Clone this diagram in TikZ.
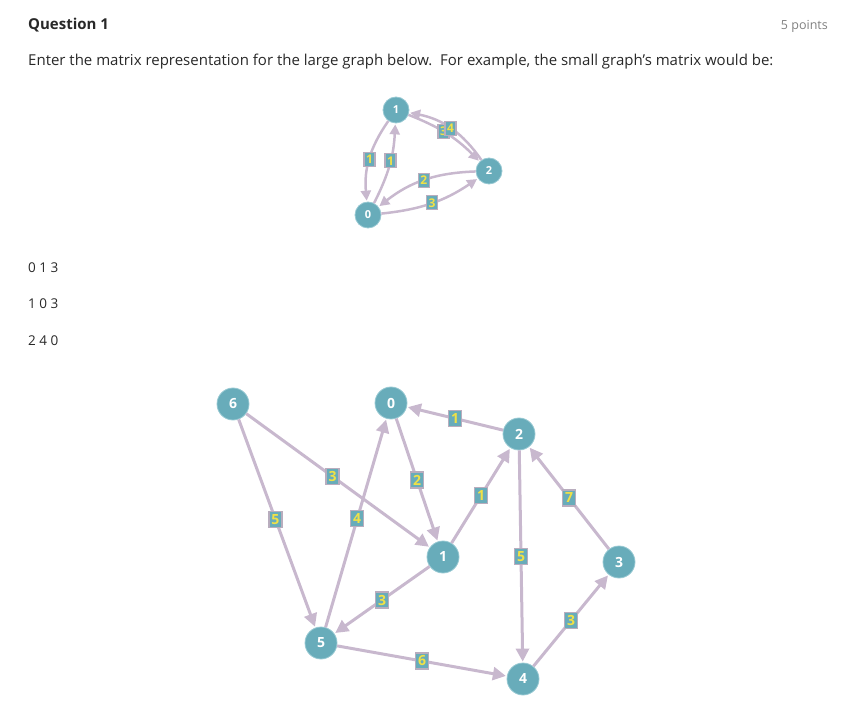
\documentclass[tikz,border=0pt]{standalone}
\usepackage{fontspec}
\setmainfont{Open Sans}
\usetikzlibrary{arrows.meta}
\definecolor{nodeteal}{RGB}{104,172,186}
\definecolor{nodering}{RGB}{150,200,210}
\definecolor{edgec}{RGB}{200,184,206}
\definecolor{labyel}{RGB}{240,225,70}
\definecolor{txt}{RGB}{40,40,40}
\tikzset{
  vtx/.style={circle,fill=nodeteal,draw=nodering,line width=0.8pt,minimum size=32pt,inner sep=0pt,text=white,font=\fontsize{14}{14}\selectfont\bfseries},
  svtx/.style={vtx,minimum size=26pt,font=\fontsize{11}{11}\selectfont\bfseries},
  edg/.style={draw=edgec,line width=3pt,-{Triangle[length=13pt,width=13pt]},shorten >=1pt},
  sedg/.style={edg,line width=2.5pt,-{Triangle[length=10pt,width=10pt]}},
  wlab/.style={fill=nodeteal,draw=edgec!80!gray,line width=1.2pt,inner sep=0.5pt,minimum width=13pt,minimum height=16pt,text=labyel,font=\fontsize{14}{14}\selectfont\bfseries},
  swlab/.style={wlab,minimum width=11pt,minimum height=14pt,font=\fontsize{12}{12}\selectfont\bfseries},
  ptxt/.style={anchor=west,inner sep=0pt,text=txt}
}
\begin{document}
\begin{tikzpicture}[x=1pt,y=-1pt]
\useasboundingbox (0,0) rectangle (852,719);
\node[ptxt,font=\fontsize{15}{15}\selectfont\bfseries] (q) at (28,25) {Question 1};
\node[anchor=east,inner sep=0pt,text=gray,font=\fontsize{12.5}{12.5}\selectfont] (pts) at (828,26) {5 points};
\node[ptxt,font=\fontsize{15}{15}\selectfont] (intro) at (28,62) {Enter the matrix representation for the large graph below.\ \ For example, the small graph's matrix would be:};
\node[ptxt,font=\fontsize{13.5}{13.5}\selectfont] (r1) at (28,268) {0 1 3};
\node[ptxt,font=\fontsize{13.5}{13.5}\selectfont] (r2) at (28,304) {1 0 3};
\node[ptxt,font=\fontsize{13.5}{13.5}\selectfont] (r3) at (28,341) {2 4 0};
% small graph
\node[svtx] (s1) at (396,110) {1};
\node[svtx] (s2) at (489,171) {2};
\node[svtx] (s0) at (368,215) {0};
\draw[sedg] (s1) to[bend right=20] node[swlab,pos=0.5] {1} (s0);
\draw[sedg] (s0) to[bend right=12] node[swlab,pos=0.55] {1} (s1);
\draw[sedg] (s1) to[bend left=12] node[swlab,pos=0.45] {3} (s2);
\draw[sedg] (s2) to[bend right=22] node[swlab,pos=0.5] {4} (s1);
\draw[sedg] (s2) to[bend right=18] node[swlab,pos=0.5] {2} (s0);
\draw[sedg] (s0) to[bend right=14] node[swlab,pos=0.5] {3} (s2);
% large graph
\node[vtx] (g6) at (233,404) {6};
\node[vtx] (g0) at (391,403) {0};
\node[vtx] (g2) at (519,434) {2};
\node[vtx] (g1) at (443,557) {1};
\node[vtx] (g3) at (619,562) {3};
\node[vtx] (g5) at (321,643) {5};
\node[vtx] (g4) at (523,679) {4};
\draw[edg] (g6) -- node[wlab,pos=0.47] {3} (g1);
\draw[edg] (g6) -- node[wlab,pos=0.48] {5} (g5);
\draw[edg] (g5) -- node[wlab,pos=0.52] {4} (g0);
\draw[edg] (g0) -- node[wlab,pos=0.5] {2} (g1);
\draw[edg] (g2) -- node[wlab,pos=0.5] {1} (g0);
\draw[edg] (g1) -- node[wlab,pos=0.5] {1} (g2);
\draw[edg] (g2) -- node[wlab,pos=0.5] {5} (g4);
\draw[edg] (g3) -- node[wlab,pos=0.5] {7} (g2);
\draw[edg] (g4) -- node[wlab,pos=0.5] {3} (g3);
\draw[edg] (g1) -- node[wlab,pos=0.5] {3} (g5);
\draw[edg] (g5) -- node[wlab,pos=0.5] {6} (g4);
\end{tikzpicture}
\end{document}
